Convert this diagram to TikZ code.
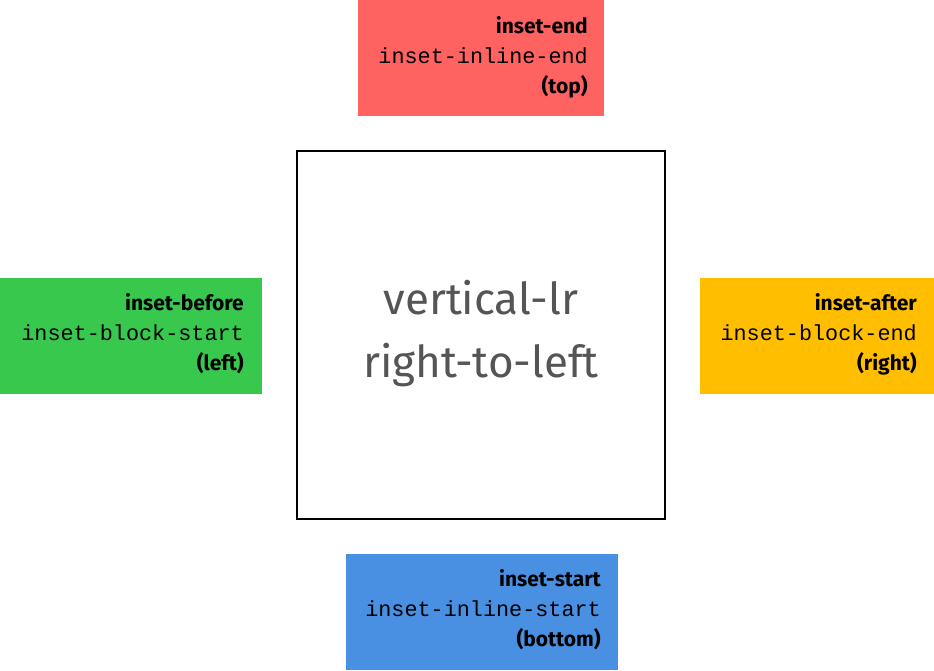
\documentclass[tikz,border=0pt]{standalone}
\usepackage{fontspec}
\setmainfont{Fira Sans}
\newfontfamily\handfont{Fira Sans}
\newfontfamily\codefont{Liberation Mono}
\definecolor{cred}{RGB}{255,99,97}
\definecolor{cgreen}{RGB}{55,200,77}
\definecolor{cyellow}{RGB}{255,191,0}
\definecolor{cblue}{RGB}{74,144,226}
\definecolor{cgray}{RGB}{85,85,85}
\newcommand{\codeline}[1]{{\codefont\mdseries\fontsize{21.8}{30}\selectfont #1}}
\begin{document}
\begin{tikzpicture}[x=1pt,y=-1pt,
  lbl/.style={inner sep=0pt,anchor=east,align=right,text=black,
    font=\fontsize{21}{30}\selectfont\handfont\bfseries}]
\useasboundingbox (0,0) rectangle (934,670);
\fill[white] (0,0) rectangle (934,670);
% panels
\path[fill=cred] (358,0) rectangle (604,116);
\path[fill=cgreen] (0,278) rectangle (262,394);
\path[fill=cyellow] (700,278) rectangle (934,394);
\path[fill=cblue] (346,554) rectangle (618,670);
% center square
\draw[line width=2pt] (297,151) rectangle (665,519);
\node[font=\fontsize{44}{63}\selectfont\handfont,text=cgray,align=center] (center) at (481,334) {vertical-lr\\right-to-left};
% labels
\node[lbl] (top) at (588,57) {inset-end\\\codeline{inset-inline-end}\\(top)};
\node[lbl] (left) at (244,334) {inset-before\\\codeline{inset-block-start}\\(left)};
\node[lbl] (right) at (917,334) {inset-after\\\codeline{inset-block-end}\\(right)};
\node[lbl] (bottom) at (601,610) {inset-start\\\codeline{inset-inline-start}\\(bottom)};
\end{tikzpicture}
\end{document}
